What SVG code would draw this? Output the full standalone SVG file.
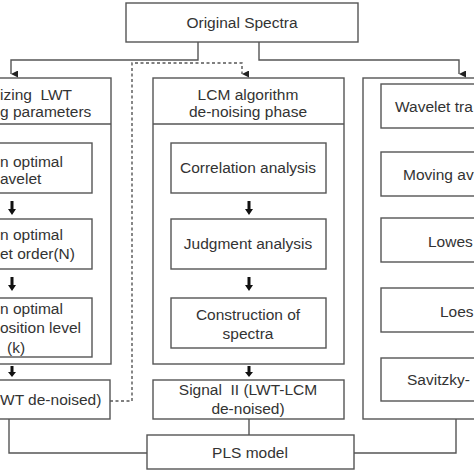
<svg xmlns="http://www.w3.org/2000/svg" width="474" height="474" viewBox="0 0 474 474">
<defs>
<style>
.box{fill:#fff;stroke:#555;stroke-width:1.4}
.ln{fill:none;stroke:#555;stroke-width:1.4}
.dash{fill:none;stroke:#555;stroke-width:1.4;stroke-dasharray:3,2.5}
.t{font-family:"Liberation Sans",Arial,sans-serif;font-size:15.5px;fill:#333}
.c{text-anchor:middle}
.ar{fill:#111}
</style>
<marker id="ah" viewBox="0 0 8 8" refX="4" refY="8" markerWidth="7" markerHeight="7" markerUnits="userSpaceOnUse" orient="auto-start-reverse">
<path d="M0,0 L8,0 L4,8 Z" fill="#222"/>
</marker>
</defs>
<rect width="474" height="474" fill="#fff"/>

<g id="original">
<rect class="box" x="126" y="3" width="232" height="39"/>
<text class="t c" x="242" y="28">Original Spectra</text>
</g>

<g id="left-panel">
<rect class="box" x="-2" y="78" width="113" height="286"/>
<line class="ln" x1="-2" y1="124" x2="111" y2="124"/>
<text class="t" x="0" y="100">izing&#160;&#160;LWT</text>
<text class="t" x="0" y="117">g parameters</text>
</g>
<g id="left-box1">
<rect class="box" x="-2" y="143" width="94" height="50"/>
<text class="t" x="0" y="167">n optimal</text>
<text class="t" x="0" y="184">avelet</text>
</g>
<g id="left-box2">
<rect class="box" x="-2" y="219" width="94" height="50"/>
<text class="t" x="0" y="240">n optimal</text>
<text class="t" x="0" y="259">et order(N)</text>
</g>
<g id="left-box3">
<rect class="box" x="-2" y="298" width="94" height="59"/>
<text class="t" x="0" y="314">n optimal</text>
<text class="t" x="0" y="333">osition level</text>
<text class="t" x="7" y="353">(k)</text>
</g>
<g id="left-signal">
<rect class="box" x="-2" y="380" width="112" height="39"/>
<text class="t" x="0" y="405">WT de-noised)</text>
</g>

<g id="mid-panel">
<rect class="box" x="153" y="78" width="191" height="286"/>
<line class="ln" x1="153" y1="124" x2="344" y2="124"/>
<text class="t c" x="248" y="100">LCM algorithm</text>
<text class="t c" x="248" y="117">de-noising phase</text>
</g>
<g id="mid-box1">
<rect class="box" x="171" y="143" width="155" height="50"/>
<text class="t c" x="248" y="173">Correlation analysis</text>
</g>
<g id="mid-box2">
<rect class="box" x="171" y="219" width="155" height="50"/>
<text class="t c" x="248" y="249">Judgment analysis</text>
</g>
<g id="mid-box3">
<rect class="box" x="171" y="298" width="155" height="50"/>
<text class="t c" x="248" y="320">Construction of</text>
<text class="t c" x="248" y="339">spectra</text>
</g>
<g id="mid-signal">
<rect class="box" x="153" y="380" width="191" height="39"/>
<text class="t c" x="248" y="395">Signal&#160;&#160;II (LWT-LCM</text>
<text class="t c" x="248" y="414">de-noised)</text>
</g>

<g id="right-panel">
<rect class="box" x="363" y="78" width="115" height="341"/>
</g>
<g id="right-box1">
<rect class="box" x="381" y="84" width="97" height="44"/>
<text class="t" x="395" y="112">Wavelet tra</text>
</g>
<g id="right-box2">
<rect class="box" x="381" y="152" width="97" height="44"/>
<text class="t" x="403" y="180">Moving av</text>
</g>
<g id="right-box3">
<rect class="box" x="381" y="218" width="97" height="44"/>
<text class="t" x="428" y="247">Lowes</text>
</g>
<g id="right-box4">
<rect class="box" x="381" y="288" width="97" height="44"/>
<text class="t" x="440" y="317">Loes</text>
</g>
<g id="right-box5">
<rect class="box" x="381" y="358" width="97" height="43"/>
<text class="t" x="407" y="385">Savitzky-</text>
</g>

<g id="pls">
<rect class="box" x="147" y="435" width="207" height="34"/>
<text class="t c" x="250" y="458">PLS model</text>
</g>

<g id="connectors">
<path class="ln" d="M198,42 V60 H11 V74" marker-end="url(#ah)"/>
<path class="ln" d="M259,42 V60 H459 V74" marker-end="url(#ah)"/>
<path class="dash" d="M110,401 H132 V63 H242 V74" marker-end="url(#ah)"/>
<path class="ln" d="M9,419 V453 H147"/>
<path class="ln" d="M249,419 V435"/>
<path class="ln" d="M456,419 V453 H354"/>
<g class="ar">
<path d="M10.5,201 h3 v8 h2.5 l-4,6 l-4,-6 h2.5 z"/>
<path d="M10.5,277 h3 v8 h2.5 l-4,6 l-4,-6 h2.5 z"/>
<path d="M10.5,366 h3 v6 h2.5 l-4,5 l-4,-5 h2.5 z"/>
<path d="M247.5,201 h3 v8 h2.5 l-4,6 l-4,-6 h2.5 z"/>
<path d="M247.5,277 h3 v8 h2.5 l-4,6 l-4,-6 h2.5 z"/>
<path d="M247.5,366 h3 v6 h2.5 l-4,5 l-4,-5 h2.5 z"/>
</g>
</g>
</svg>
